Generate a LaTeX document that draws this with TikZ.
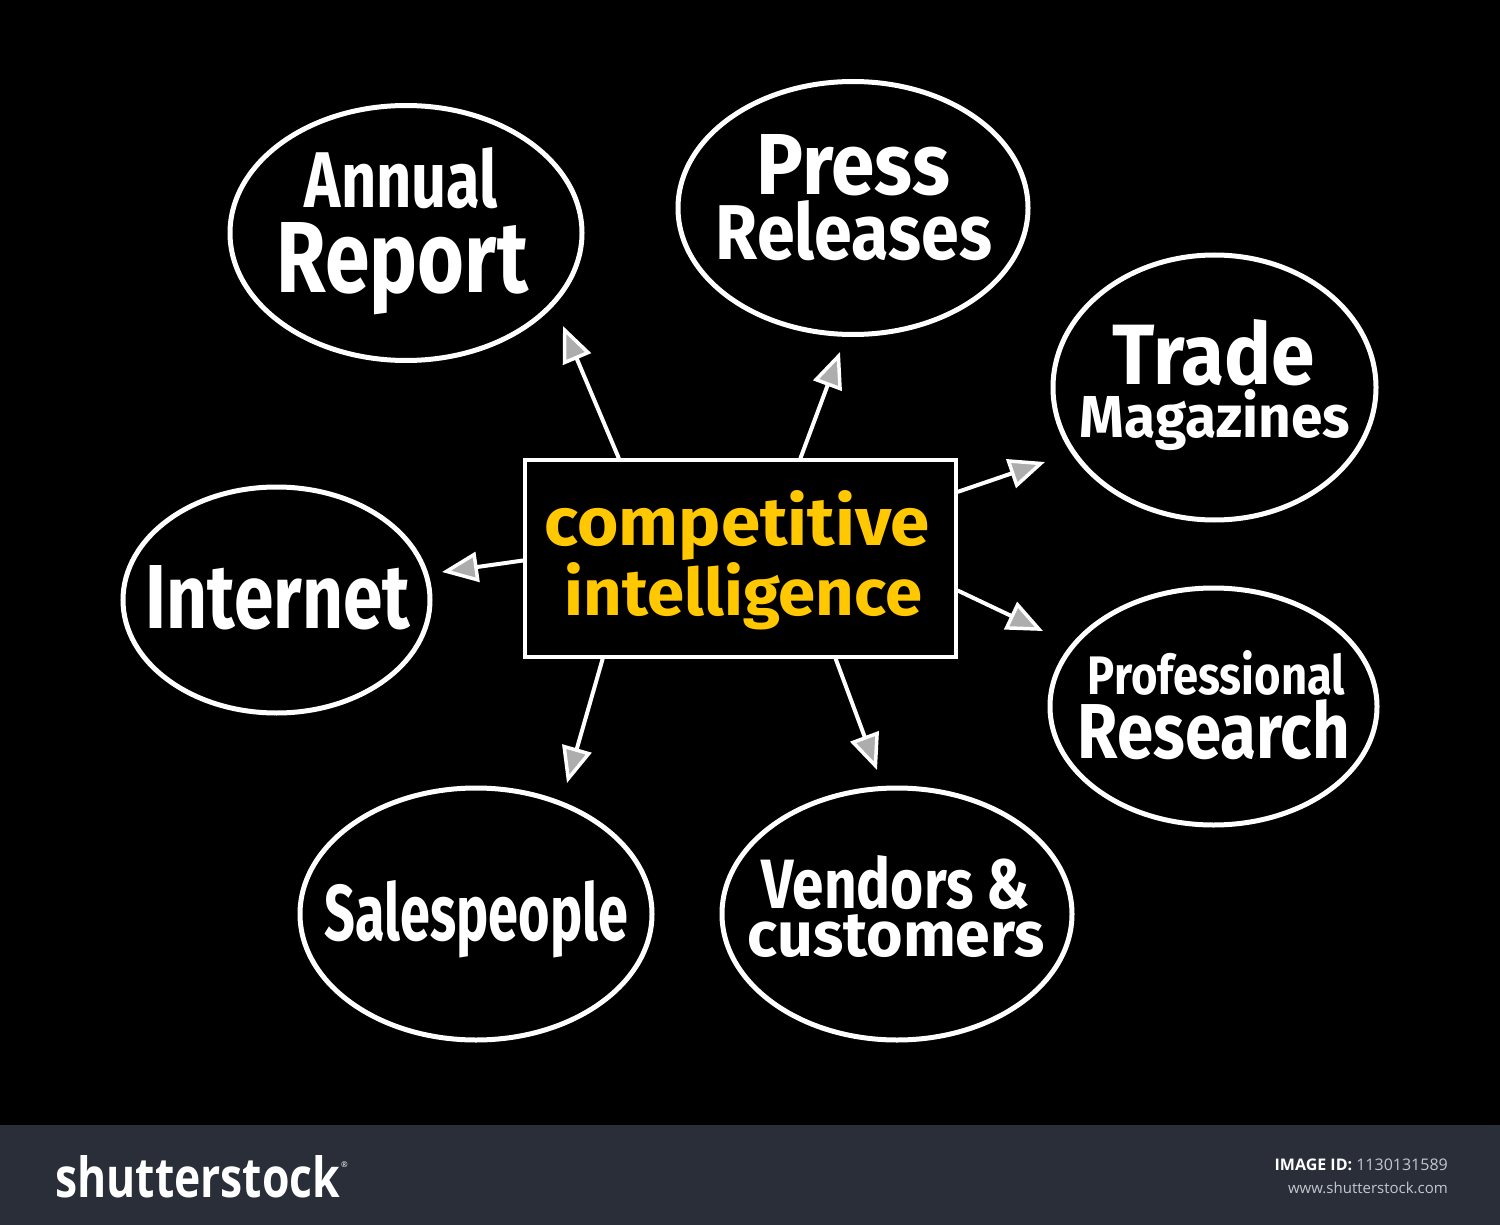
\documentclass[tikz,border=0pt]{standalone}
\usepackage{fontspec}
\setmainfont{Fira Sans}
\newfontfamily\logofont{Open Sans}
\usetikzlibrary{shapes.geometric,arrows.meta,calc}
\definecolor{ciyellow}{HTML}{FFC800}
\definecolor{barcol}{HTML}{292E38}
\definecolor{urlgray}{HTML}{C3C7CD}
\newcommand{\hw}[3]{\resizebox{#1pt}{#2pt}{\bfseries #3}}
\tikzset{
  bubble/.style={ellipse, draw=white, line width=5pt, inner sep=0pt},
  txt/.style={text=white, inner sep=0pt, anchor=base},
  ytxt/.style={text=ciyellow, inner sep=0pt, anchor=base},
  arr/.style={draw=white, line width=4pt, line cap=round,
    -{Triangle[length=36pt, width=30pt, line width=3.5pt, fill=white!68!black]}},
}
\begin{document}
\begin{tikzpicture}[x=1pt, y=-1pt]
\fill[black] (0,0) rectangle (1500,1225);
\useasboundingbox (0,0) rectangle (1500,1225);
\fill[barcol] (0,1125) rectangle (1500,1225);

% centre box
\node[draw=white, line width=4pt, minimum width=431pt, minimum height=197pt, inner sep=0pt] (ci) at (740.5,558.5) {};
\node[ytxt] (ci1) at (737.5,545) {\hw{385}{55}{competitive}};
\node[ytxt] (ci2) at (743.5,615) {\hw{357}{53}{intelligence}};

% bubbles
\node[bubble, minimum width=352pt, minimum height=255pt] (annual) at (406,233) {};
\node[bubble, minimum width=350pt, minimum height=253pt] (press) at (853,208) {};
\node[bubble, minimum width=323pt, minimum height=265pt] (trade) at (1214.5,387.5) {};
\node[bubble, minimum width=327pt, minimum height=237pt] (prof) at (1213.5,706.5) {};
\node[bubble, minimum width=350pt, minimum height=252pt] (vend) at (897,914) {};
\node[bubble, minimum width=352pt, minimum height=252pt] (sales) at (476,914) {};
\node[bubble, minimum width=307pt, minimum height=226pt] (inet) at (276.5,600) {};

% bubble texts
\node[txt] (tannual1) at (401.5,208) {\hw{193}{60}{Annual}};
\node[txt] (tannual2) at (402.5,292) {\hw{251}{70}{Report}};
\node[txt] (tpress1) at (853.5,195) {\hw{193}{60}{Press}};
\node[txt] (tpress2) at (854,260) {\hw{276}{59}{Releases}};
\node[txt] (ttrade1) at (1214,384) {\hw{202}{65}{Trade}};
\node[txt] (ttrade2) at (1215,437) {\hw{270}{48}{Magazines}};
\node[txt] (tinet) at (278,628) {\hw{264}{63}{Internet}};
\node[txt] (tprof1) at (1216.5,694) {\hw{257}{44}{Professional}};
\node[txt] (tprof2) at (1214,758) {\hw{272}{59}{Research}};
\node[txt] (tsales) at (476.5,940) {\hw{303}{60}{Salespeople}};
\node[txt] (tvend1) at (896,908) {\hw{268}{53}{Vendors \&}};
\node[txt] (tvend2) at (896.5,956) {\hw{297}{42}{customers}};

% connectors
\coordinate (eannual) at (563,326);
\coordinate (epress) at (840,352);
\coordinate (etrade) at (1045,462);
\coordinate (eprof) at (1043,631);
\coordinate (evend) at (877,770);
\coordinate (esales) at (567,783);
\coordinate (einet) at (442,572);
\draw[arr] ($(ci.north west)!0.22!(ci.north east)$) -- (eannual);
\draw[arr] ($(ci.north west)!0.638!(ci.north east)$) -- (epress);
\draw[arr] ($(ci.north east)!0.168!(ci.south east)$) -- (etrade);
\draw[arr] ($(ci.north east)!0.66!(ci.south east)$) -- (eprof);
\draw[arr] ($(ci.south west)!0.719!(ci.south east)$) -- (evend);
\draw[arr] ($(ci.south west)!0.183!(ci.south east)$) -- (esales);
\draw[arr] ($(ci.north west)!0.51!(ci.south west)$) -- (einet);

% footer bar
\node[text=white, inner sep=0pt, anchor=base west] (logo) at (55,1197) {\resizebox{285pt}{42pt}{\logofont\bfseries shutterstock}};
\node[text=white, inner sep=0pt, anchor=south west, font=\logofont\fontsize{8}{8}\selectfont] (reg) at (341,1168) {\textregistered};
\node[inner sep=0pt, anchor=base east, font=\logofont\fontsize{16}{16}\selectfont] (imgid) at (1448,1170) {\textcolor{white}{\bfseries IMAGE ID:} \textcolor{urlgray}{1130131589}};
\node[inner sep=0pt, anchor=base east, text=urlgray, font=\logofont\fontsize{15}{15}\selectfont] (url) at (1448,1193) {www.shutterstock.com};
\end{tikzpicture}
\end{document}
